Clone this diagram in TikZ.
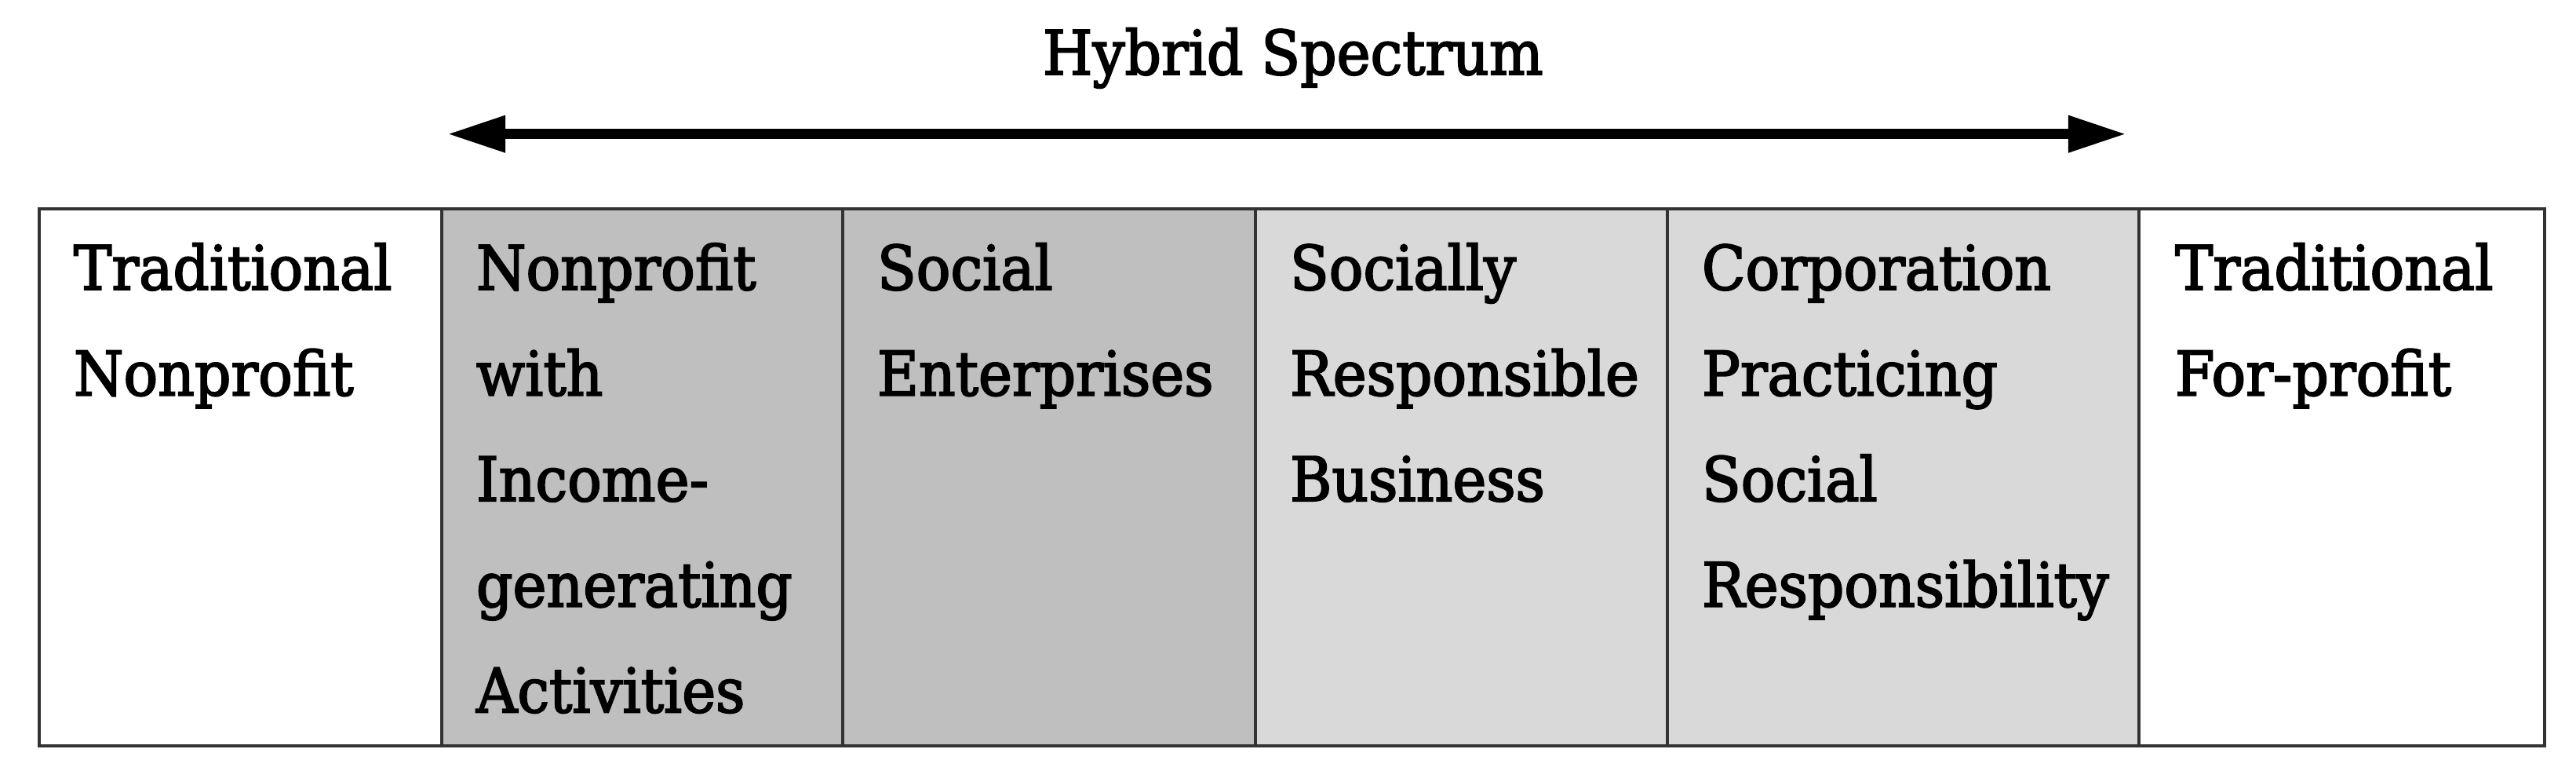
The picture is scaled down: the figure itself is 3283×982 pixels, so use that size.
\documentclass[tikz,border=0pt]{standalone}
\usepackage{fontspec}
\setmainfont{DejaVu Serif}[FakeStretch=0.93,FakeBold=2.5]
\usetikzlibrary{arrows.meta}
\definecolor{edgegray}{HTML}{333333}
\definecolor{darkfill}{HTML}{BFBFBF}
\definecolor{lightfill}{HTML}{D9D9D9}
\newcommand\cellfont{\fontsize{22.2pt}{38.27pt}\selectfont}
\newcommand\stacklines[1]{\vtop{\baselineskip=1.345cm\lineskiplimit=-20pt\lineskip=0pt\halign{##\hfil\cr#1\crcr}}}
\tikzset{
  cellbox/.style={draw=edgegray, line width=0.04cm},
  celltext/.style={anchor=base west, inner sep=0pt, outer sep=0pt, font=\cellfont},
  spectrumarrow/.style={line width=0.13cm,
    {Triangle[length=0.74cm,width=0.44cm]}-{Triangle[length=0.74cm,width=0.44cm]}}
}
\begin{document}
\begin{tikzpicture}[x=0.01cm,y=-0.01cm]
\useasboundingbox (0,0) rectangle (3283,982);
% cells
\path[cellbox, fill=white]     (50,266)   rectangle (563,950);
\path[cellbox, fill=darkfill]  (563,266)  rectangle (1074,950);
\path[cellbox, fill=darkfill]  (1074,266) rectangle (1600,950);
\path[cellbox, fill=lightfill] (1600,266) rectangle (2125,950);
\path[cellbox, fill=lightfill] (2125,266) rectangle (2726,950);
\path[cellbox, fill=white]     (2726,266) rectangle (3243,950);
% texts
\node[celltext] (t1) at (94,369)   {\stacklines{Traditional\cr Nonprofit}};
\node[celltext] (t2) at (607,369)  {\stacklines{Nonprofit\cr with\cr Income-\cr generating\cr Activities}};
\node[celltext] (t3) at (1118,369) {\stacklines{Social\cr Enterprises}};
\node[celltext] (t4) at (1644,369) {\stacklines{Socially\cr Responsible\cr Business}};
\node[celltext] (t5) at (2169,369) {\stacklines{Corporation\cr Practicing\cr Social\cr Responsibility}};
\node[celltext] (t6) at (2772,369) {\stacklines{Traditional\cr For-profit}};
% title and arrow
\node[anchor=base, inner sep=0pt, font=\cellfont] (title) at (1648,95) {Hybrid Spectrum};
\coordinate (aL) at (570,170.7);
\coordinate (aR) at (2710,170.7);
\draw[spectrumarrow] (aL) -- (aR);
\end{tikzpicture}
\end{document}
